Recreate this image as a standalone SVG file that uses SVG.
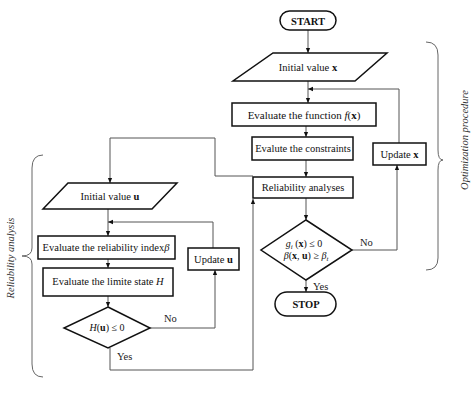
<svg xmlns="http://www.w3.org/2000/svg" width="474" height="406" viewBox="0 0 474 406">
<defs>
<style>
.box{fill:#fff;stroke:#111;stroke-width:1.5}
.ln{fill:none;stroke:#555;stroke-width:1}
.br{fill:none;stroke:#666;stroke-width:1}
text{font-family:"Liberation Serif","Times New Roman",serif;fill:#111;font-size:10.5px}
.c{text-anchor:middle}
.b{font-weight:bold}
.i{font-style:italic}
.lab{font-size:10.5px;fill:#222}
</style>
<marker id="ah" viewBox="0 0 8 8" refX="7" refY="4" markerWidth="6" markerHeight="6" orient="auto-start-reverse" markerUnits="userSpaceOnUse">
<path d="M0,1 L7,4 L0,7 Z" fill="#111"/>
</marker>
</defs>
<rect width="474" height="406" fill="#fff"/>

<g id="connectors">
<path class="ln" d="M308,29 V53" marker-end="url(#ah)"/>
<path class="ln" d="M308,81 V103" marker-end="url(#ah)"/>
<path class="ln" d="M306,126 V137" marker-end="url(#ah)"/>
<path class="ln" d="M306,160 V177" marker-end="url(#ah)"/>
<path class="ln" d="M306,198 V220" marker-end="url(#ah)"/>
<path class="ln" d="M306,280 V292" marker-end="url(#ah)"/>
<path class="ln" d="M352,250 H397 V165" marker-end="url(#ah)"/>
<path class="ln" d="M399,143 V89 H308" marker-end="url(#ah)"/>
<path class="ln" d="M253,176 H215 V138 H110 V183" marker-end="url(#ah)"/>
<path class="ln" d="M108,209 V236" marker-end="url(#ah)"/>
<path class="ln" d="M108,259 V268" marker-end="url(#ah)"/>
<path class="ln" d="M108,296 V307" marker-end="url(#ah)"/>
<path class="ln" d="M213,248 V222 H108" marker-end="url(#ah)"/>
<path class="ln" d="M150,328 H215 V270" marker-end="url(#ah)"/>
<path class="ln" d="M110,348 V370 H253 V199" marker-end="url(#ah)"/>
<text class="lab" x="360" y="246">No</text>
<text class="lab" x="313" y="290">Yes</text>
<text class="lab" x="164" y="322">No</text>
<text class="lab" x="117" y="360">Yes</text>
</g>

<g id="start">
<rect class="box" x="280" y="11" width="56" height="19" rx="9.5"/>
<text class="c b" x="308" y="24.5">START</text>
</g>
<g id="init-x">
<path class="box" d="M273,53 H387 L355,81 H233 Z"/>
<text class="c" x="308" y="71">Initial value <tspan class="b">x</tspan></text>
</g>
<g id="eval-f">
<rect class="box" x="232" y="103" width="144" height="23"/>
<text class="c" x="304" y="118.5" style="font-size:11px">Evaluate the function <tspan class="i">f</tspan>(<tspan class="b">x</tspan>)</text>
</g>
<g id="eval-c">
<rect class="box" x="252" y="137" width="101" height="23"/>
<text class="c" x="303" y="152">Evalute the constraints</text>
</g>
<g id="rel-an">
<rect class="box" x="253" y="177" width="100" height="21"/>
<text class="c" x="303" y="191">Reliability analyses</text>
</g>
<g id="cond">
<path class="box" d="M306,220 L352,250 L306,280 L261,250 Z"/>
<text class="c" x="304" y="247" style="font-size:10px"><tspan class="i">g</tspan><tspan dy="2" style="font-size:7px" class="i">i</tspan><tspan dy="-2"> (</tspan><tspan class="b">x</tspan>) ≤ 0</text>
<text class="c" x="306" y="259" style="font-size:10px"><tspan class="i">β</tspan>(<tspan class="b">x</tspan>, <tspan class="b">u</tspan>) ≥ <tspan class="i">β</tspan><tspan dy="2" style="font-size:7px" class="i">t</tspan></text>
</g>
<g id="stop">
<rect class="box" x="275" y="292" width="61" height="24" rx="12"/>
<text class="c b" x="306" y="308">STOP</text>
</g>
<g id="update-x">
<rect class="box" x="373" y="143" width="53" height="22"/>
<text class="c" x="399.5" y="158">Update <tspan class="b">x</tspan></text>
</g>

<g id="init-u">
<path class="box" d="M68,183 H177 L152,209 H43 Z"/>
<text class="c" x="110" y="200">Initial value <tspan class="b">u</tspan></text>
</g>
<g id="eval-beta">
<rect class="box" x="38" y="236" width="137" height="23"/>
<text class="c" x="106" y="251">Evaluate the reliability index<tspan class="i">β</tspan></text>
</g>
<g id="eval-h">
<rect class="box" x="43" y="268" width="130" height="28"/>
<text class="c" x="108" y="285">Evaluate the limite state <tspan class="i">H</tspan></text>
</g>
<g id="cond-h">
<path class="box" d="M108,307 L150,328 L108,348 L64,328 Z"/>
<text class="c" x="107" y="331" style="font-size:10px"><tspan class="i">H</tspan>(<tspan class="b">u</tspan>) ≤ 0</text>
</g>
<g id="update-u">
<rect class="box" x="188" y="248" width="51" height="22"/>
<text class="c" x="213.5" y="263">Update <tspan class="b">u</tspan></text>
</g>

<g id="brace-opt">
<path class="br" d="M426,42 Q438,42 438,55 V150 Q438,160 443,160 Q438,160 438,170 V258 Q438,270 426,270"/>
<text class="c i" transform="translate(468,140) rotate(-90)" style="font-size:10.5px;fill:#333">Optimization procedure</text>
</g>
<g id="brace-rel">
<path class="br" d="M43,155 Q32,155 32,168 V248 Q32,256 22,256 Q32,256 32,264 V364 Q32,377 43,377"/>
<text class="c i" transform="translate(14,258) rotate(-90)" style="font-size:10.5px;fill:#333">Reliability analysis</text>
</g>
</svg>
